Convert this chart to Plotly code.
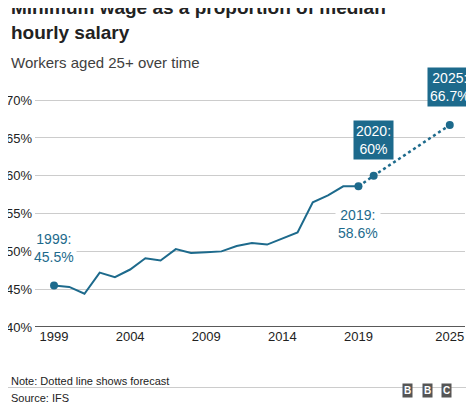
import plotly.graph_objects as go

years = list(range(1999, 2020))
values = [45.5, 45.3, 44.4, 47.2, 46.6, 47.6, 49.1, 48.8, 50.3, 49.8, 49.9, 50.0,
          50.7, 51.1, 50.9, 51.7, 52.5, 56.5, 57.4, 58.6, 58.6]
fc_years = [2019, 2020, 2025]
fc_values = [58.6, 60.0, 66.7]
tick_years = [1999, 2004, 2009, 2014, 2019, 2025]
col = "#1d6a8c"

fig = go.Figure()
fig.add_trace(go.Scatter(x=fc_years, y=fc_values, mode="lines",
                         line=dict(color=col, width=2.5, dash="dot"), hoverinfo="skip"))
fig.add_trace(go.Scatter(x=years, y=values, mode="lines",
                         line=dict(color=col, width=2), hoverinfo="skip"))
fig.add_trace(go.Scatter(x=[1999, 2019, 2020, 2025], y=[45.5, 58.6, 60.0, 66.7], mode="markers",
                         marker=dict(color=col, size=8), hoverinfo="skip"))

def lab(x, y, text, ay, boxed):
    fig.add_annotation(x=x, y=y, text=text, showarrow=True, arrowcolor="rgba(0,0,0,0)",
                       ax=0, ay=ay, font=dict(size=14, color="white" if boxed else col),
                       bgcolor=col if boxed else "white", borderpad=2, align="center")

lab(1999, 45.5, "1999:<br>45.5%", -37, False)
lab(2019, 58.6, "2019:<br>58.6%", 38, False)
lab(2020, 60.0, "2020:<br>60%", -36, True)
lab(2025, 66.7, "2025:<br>66.7%", -38, True)

fig.update_layout(
    width=466, height=399, margin=dict(l=27, r=9, t=77, b=80, autoexpand=False),
    plot_bgcolor="white", paper_bgcolor="white", showlegend=False,
    font=dict(family="Liberation Sans, Arial", color="#222"),
    xaxis=dict(range=[1997.75, 2026], tickvals=tick_years, showgrid=False, automargin=False,
               zeroline=False, tickfont=dict(size=13), ticks="", ticklen=0),
    yaxis=dict(range=[40, 72], tickvals=[40, 45, 50, 55, 60, 65, 70], automargin=False,
               ticktext=[f"{v}%" for v in [40, 45, 50, 55, 60, 65, 70]],
               gridcolor="#cccccc", zeroline=False, tickfont=dict(size=13),
               ticklabelstandoff=2),
)
fig.add_shape(type="line", xref="paper", yref="y", x0=0, x1=1, y0=40, y1=40,
              line=dict(color="#222", width=1.5))
fig.add_annotation(xref="paper", yref="paper", x=-0.06, y=1.165, xanchor="left", yanchor="bottom",
                   text="<b>Minimum wage as a proportion of median<br>hourly salary</b>",
                   showarrow=False, align="left", font=dict(size=19, color="#222"))
fig.add_annotation(xref="paper", yref="paper", x=-0.06, y=1.05, xanchor="left", yanchor="bottom",
                   text="Workers aged 25+ over time", showarrow=False,
                   font=dict(size=15, color="#404040"))
fig.add_annotation(xref="paper", yref="paper", x=-0.06, y=-0.19, xanchor="left", yanchor="top",
                   text="Note: Dotted line shows forecast", showarrow=False,
                   font=dict(size=11, color="#222"))
fig.add_annotation(xref="paper", yref="paper", x=-0.06, y=-0.26, xanchor="left", yanchor="top",
                   text="Source: IFS", showarrow=False, font=dict(size=11, color="#222"))
fig.add_shape(type="line", xref="paper", yref="paper", x0=-0.063, x1=1.02, y0=-0.25, y1=-0.25,
              line=dict(color="#ccc", width=1))
for i, ch in enumerate("BBC"):
    fig.add_annotation(xref="paper", yref="paper", x=0.88 + i * 0.045, y=-0.293, text=f"<b>{ch}</b>",
                       showarrow=False, bgcolor="#555", font=dict(size=10, color="white"), borderpad=1)
fig.write_html("out.html")
